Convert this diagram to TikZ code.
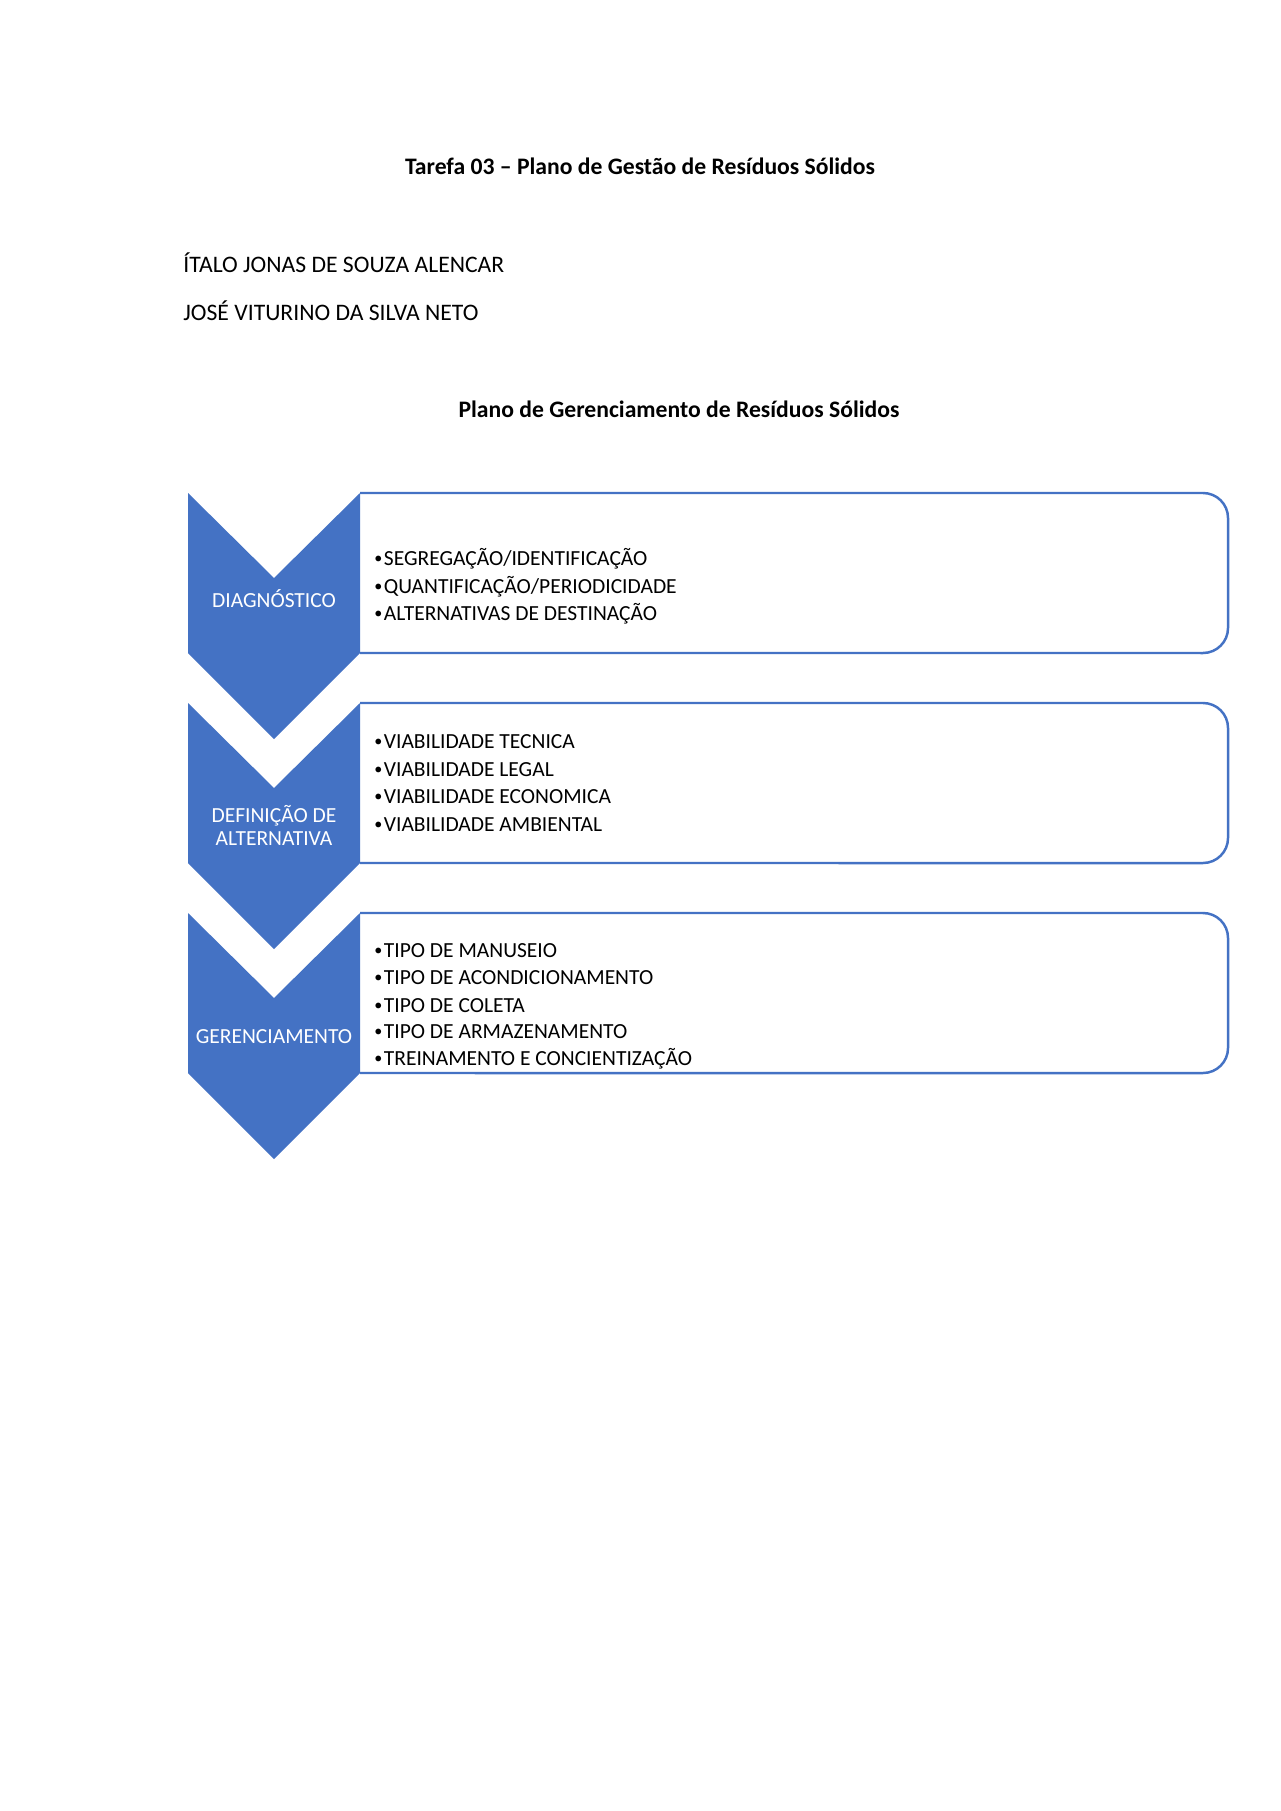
\documentclass[tikz,border=0pt]{standalone}
\usepackage{fontspec}
\setmainfont{Carlito}
\definecolor{wblue}{HTML}{4472C4}
\tikzset{
  chev/.style={fill=wblue, draw=none},
  boxline/.style={draw=wblue, line width=1.15pt},
  titletxt/.style={anchor=base, inner sep=0pt, font=\fontsize{11}{13}\selectfont\bfseries},
  nametxt/.style={anchor=base west, inner sep=0pt, font=\fontsize{11}{13}\selectfont},
  itemtxt/.style={anchor=base west, inner sep=0pt, font=\fontsize{10}{12}\selectfont},
  labtxt/.style={anchor=base, inner sep=0pt, text=white, font=\fontsize{10}{12}\selectfont},
}
\newcommand{\bul}[1]{\makebox[4.4pt][l]{\raisebox{0.9pt}{\fontsize{7.5}{8}\selectfont •}}#1}
\begin{document}
\begin{tikzpicture}[x=0.46506pt, y=-0.46506pt]
\useasboundingbox[fill=white] (0,0) rectangle (1280,1811);

% titles and names
\node[titletxt] (t1) at (640,175) {Tarefa 03 – Plano de Gestão de Resíduos Sólidos};
\node[nametxt] (n1) at (183,272) {ÍTALO JONAS DE SOUZA ALENCAR};
\node[nametxt] (n2) at (183,320) {JOSÉ VITURINO DA SILVA NETO};
\node[titletxt] (t2) at (679,417) {Plano de Gerenciamento de Resíduos Sólidos};

% boxes
\foreach \dy in {0,210,420}{
  \draw[boxline] (360,493+\dy) -- (1203,493+\dy)
     arc[start angle=90, end angle=0, radius=11.63pt] -- (1228,628+\dy)
     arc[start angle=0, end angle=-90, radius=11.63pt] -- (360,653+\dy);
}
% chevrons
\foreach \dy in {0,210,420}{
  \fill[chev] (188,493+\dy) -- (274,578+\dy) -- (360,493+\dy) -- (360,653+\dy)
     -- (274,739+\dy) -- (188,653+\dy) -- cycle;
}

% chevron labels
\node[labtxt] (l1) at (274,607) {DIAGNÓSTICO};
\node[labtxt] (l2a) at (274,822) {DEFINIÇÃO DE};
\node[labtxt] (l2b) at (274,845) {ALTERNATIVA};
\node[labtxt] (l3) at (274,1043) {GERENCIAMENTO};

% box 1 items
\node[itemtxt] (a1) at (374,565) {\bul{SEGREGAÇÃO/IDENTIFICAÇÃO}};
\node[itemtxt] (a2) at (374,593) {\bul{QUANTIFICAÇÃO/PERIODICIDADE}};
\node[itemtxt] (a3) at (374,620) {\bul{ALTERNATIVAS DE DESTINAÇÃO}};
% box 2 items
\node[itemtxt] (b1) at (374,748) {\bul{VIABILIDADE TECNICA}};
\node[itemtxt] (b2) at (374,776) {\bul{VIABILIDADE LEGAL}};
\node[itemtxt] (b3) at (374,803) {\bul{VIABILIDADE ECONOMICA}};
\node[itemtxt] (b4) at (374,831) {\bul{VIABILIDADE AMBIENTAL}};
% box 3 items
\node[itemtxt] (c1) at (374,957) {\bul{TIPO DE MANUSEIO}};
\node[itemtxt] (c2) at (374,984) {\bul{TIPO DE ACONDICIONAMENTO}};
\node[itemtxt] (c3) at (374,1012) {\bul{TIPO DE COLETA}};
\node[itemtxt] (c4) at (374,1038) {\bul{TIPO DE ARMAZENAMENTO}};
\node[itemtxt] (c5) at (374,1065) {\bul{TREINAMENTO E CONCIENTIZAÇÃO}};
\end{tikzpicture}
\end{document}
